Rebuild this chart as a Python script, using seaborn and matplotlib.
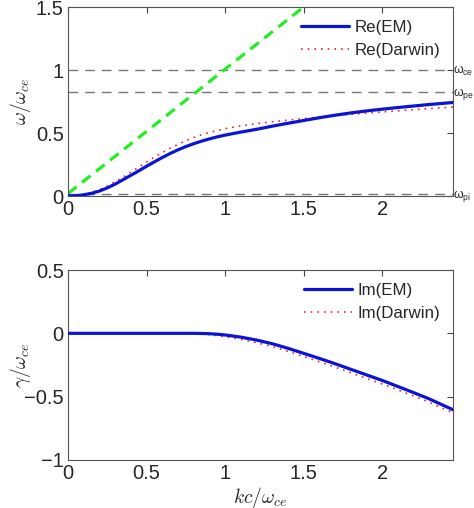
import pandas as pd
import matplotlib
matplotlib.use("Agg")
import matplotlib.pyplot as plt
import matplotlib.transforms as mtransforms
import seaborn as sns

# values
K_RE = [0.0, 0.05, 0.1, 0.15, 0.2, 0.25, 0.3, 0.35, 0.4, 0.45, 0.5, 0.55,
        0.6, 0.65, 0.7, 0.75, 0.8, 0.85, 0.9, 0.95, 1.0, 1.1, 1.2, 1.3, 1.4,
        1.5, 1.6, 1.7, 1.8, 1.9, 2.0, 2.1, 2.2, 2.3, 2.45]
RE_EM = [0.0, 0.003, 0.01, 0.022, 0.04, 0.065, 0.095, 0.13, 0.165, 0.2,
         0.237, 0.272, 0.306, 0.338, 0.367, 0.393, 0.416, 0.436, 0.454, 0.47,
         0.484, 0.508, 0.53, 0.555, 0.578, 0.60, 0.622, 0.642, 0.66, 0.676,
         0.69, 0.703, 0.715, 0.727, 0.743]
RE_DARWIN = [0.0, 0.004, 0.012, 0.028, 0.05, 0.08, 0.115, 0.15, 0.19, 0.23,
             0.27, 0.31, 0.345, 0.38, 0.41, 0.44, 0.465, 0.487, 0.505, 0.52,
             0.535, 0.557, 0.575, 0.59, 0.603, 0.615, 0.627, 0.638, 0.649,
             0.659, 0.668, 0.677, 0.686, 0.695, 0.707]

K_LIGHT = [0.0, 1.6]
LIGHT = [0.02, 1.6]

K_IM = [0.0, 0.5, 0.8, 0.85, 0.9, 0.95, 1.0, 1.05, 1.1, 1.2, 1.3, 1.4, 1.5,
        1.6, 1.7, 1.8, 1.9, 2.0, 2.1, 2.2, 2.3, 2.45]
IM_EM = [0.0, 0.0, 0.0, -0.001, -0.003, -0.007, -0.013, -0.021, -0.03, -0.053,
         -0.082, -0.118, -0.158, -0.198, -0.24, -0.284, -0.328, -0.372, -0.42,
         -0.468, -0.518, -0.603]
IM_DARWIN = [0.0, 0.0, -0.002, -0.005, -0.01, -0.018, -0.027, -0.037, -0.048,
             -0.073, -0.105, -0.142, -0.183, -0.224, -0.267, -0.311, -0.356,
             -0.40, -0.447, -0.495, -0.545, -0.628]

FREQS = [1.0, 0.83, 0.02]
FREQ_LABELS = [r"$\mathregular{\omega_{ce}}$", r"$\mathregular{\omega_{pe}}$",
               r"$\mathregular{\omega_{pi}}$"]

XTICKS = [0, 0.5, 1, 1.5, 2]
XTICK_LABELS = ["0", "0.5", "1", "1.5", "2"]


def style_axes(ax):
    ax.tick_params(direction="in", top=True, right=True, length=4,
                   labelsize=14.5, color="#444444", pad=3)
    for s in ax.spines.values():
        s.set_color("#555555")
        s.set_linewidth(0.8)


def add_legend(ax):
    ax.legend(loc="upper right", frameon=False, fontsize=12.2,
              handlelength=2.8, handletextpad=0.35, borderaxespad=0.35,
              labelspacing=0.5)


def main():
    sns.set_style("white")
    plt.rcParams["font.family"] = ["Liberation Sans", "DejaVu Sans"]
    plt.rcParams["mathtext.fontset"] = "cm"

    fig = plt.figure(figsize=(4.74, 5.08), dpi=100)
    ax1 = fig.add_axes([0.1435, 0.614, 0.812, 0.372])
    ax2 = fig.add_axes([0.1435, 0.0945, 0.812, 0.374])

    df_re = pd.DataFrame({"k": K_RE, "em": RE_EM, "dar": RE_DARWIN})
    df_light = pd.DataFrame({"k": K_LIGHT, "w": LIGHT})
    df_im = pd.DataFrame({"k": K_IM, "em": IM_EM, "dar": IM_DARWIN})

    # top panel: real part
    for f in FREQS:
        ax1.axhline(f, color="#777777", lw=1, dashes=(7, 5), zorder=1)
    sns.lineplot(data=df_light, x="k", y="w", ax=ax1, color="#22ee22",
                 lw=2.3, dashes=(3.4, 2.2), zorder=2)
    sns.lineplot(data=df_re, x="k", y="em", ax=ax1, color="#0a14d8",
                 lw=2.3, label="Re(EM)", zorder=4)
    sns.lineplot(data=df_re, x="k", y="dar", ax=ax1, color="#ee2222",
                 lw=1.2, dashes=(1, 3), label="Re(Darwin)", zorder=3)

    trans = mtransforms.offset_copy(ax1.get_yaxis_transform(), fig=fig,
                                    x=0, y=-3, units="points")
    for f, lab in zip(FREQS, FREQ_LABELS):
        ax1.text(1.001, f, lab, transform=trans, fontsize=8.8, ha="left",
                 va="baseline", color="#222222")

    ax1.set(xlim=(0, 2.45), ylim=(0, 1.5), xlabel="",
            xticks=XTICKS, yticks=[0, 0.5, 1, 1.5])
    ax1.set_xticklabels(XTICK_LABELS)
    ax1.set_yticklabels(["0", "0.5", "1", "1.5"])
    ax1.set_ylabel(r"$\omega/\omega_{ce}$", fontsize=14)
    ax1.yaxis.set_label_coords(-0.092, 0.5)
    style_axes(ax1)
    add_legend(ax1)

    # bottom panel: imaginary part
    sns.lineplot(data=df_im, x="k", y="em", ax=ax2, color="#0a14d8",
                 lw=2.3, label="Im(EM)", zorder=4)
    sns.lineplot(data=df_im, x="k", y="dar", ax=ax2, color="#ee2222",
                 lw=1.2, dashes=(1, 3), label="Im(Darwin)", zorder=3)
    ax2.set(xlim=(0, 2.45), ylim=(-1, 0.5),
            xticks=XTICKS, yticks=[-1, -0.5, 0, 0.5])
    ax2.set_xticklabels(XTICK_LABELS)
    ax2.set_yticklabels(["\u22121", "\u22120.5", "0", "0.5"])
    ax2.set_ylabel(r"$\gamma/\omega_{ce}$", fontsize=14)
    ax2.yaxis.set_label_coords(-0.092, 0.5)
    ax2.set_xlabel(r"$kc/\omega_{ce}$", fontsize=14, labelpad=1)
    style_axes(ax2)
    add_legend(ax2)

    fig.savefig("out.png", dpi=100)


if __name__ == "__main__":
    main()
